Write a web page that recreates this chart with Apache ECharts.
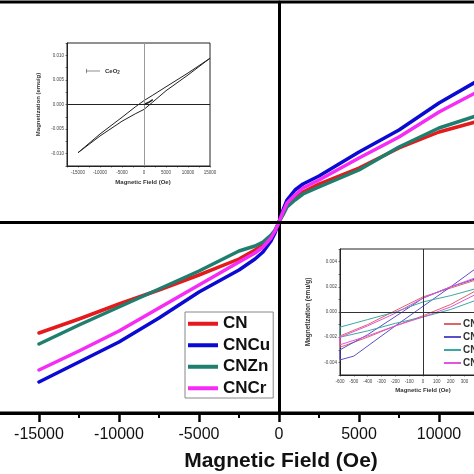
<!DOCTYPE html>
<html><head><meta charset="utf-8">
<script src="https://cdn.jsdelivr.net/npm/echarts@6/dist/echarts.min.js"></script>
<style>html,body{margin:0;padding:0;background:#fff}#c{width:474px;height:474px}</style>
</head><body><div id="c"></div>
<script>
// ---- Main chart data (field in Oe, magnetization in relative units) ----
const fieldMain = [-15000,-12500,-10000,-7500,-5000,-2500,-1500,-1000,-500,-250,0,250,500,1000,1500,2500,5000,7500,10000,12500];
const magCN   = [-11.1,-9.7,-8.2,-6.8,-5.3,-3.7,-2.8,-2.3,-1.5,-0.9,0,0.9,1.7,2.5,3.0,3.8,5.4,7.4,9.0,10.1];
const magCNCu = [-16.0,-14.0,-12.0,-9.6,-7.0,-4.8,-3.7,-3.0,-1.9,-1.1,0,1.2,2.2,3.2,3.8,4.6,7.0,9.2,11.9,14.2];
const magCNZn = [-12.2,-10.3,-8.5,-6.7,-4.9,-2.9,-2.4,-2.0,-1.3,-0.8,0,0.7,1.5,2.2,2.8,3.5,5.2,7.5,9.4,10.7];
const magCNCr = [-14.8,-12.9,-10.9,-8.6,-6.3,-4.0,-3.1,-2.5,-1.6,-0.9,0,1.0,1.9,2.7,3.4,4.2,6.4,8.5,11.0,13.1];
const seriesNames = ['CN','CNCu','CNZn','CNCr'];
const mainTicks = [-15000,-10000,-5000,0,5000,10000];

// ---- Top-left inset: CeO2 loop ----
const ceo2Field = [15000,10000,5000,2000,0,-2000,-5000,-10000,-15000,-10000,-5000,-2000,0,2000,5000,10000,15000];
const ceo2Mag   = [0.0094,0.0064,0.0036,0.0019,0.0008,-0.0005,-0.0026,-0.0060,-0.0098,-0.0064,-0.0034,-0.0019,-0.0010,0.0005,0.0028,0.0060,0.0094];
const ceo2VirginField = [0,1000,2000];
const ceo2VirginMag = [0,0.0004,0.0010];

// ---- Bottom-right inset: low-field loops ----
const loopCNField   = [600,400,200,0,-220,-400,-600,-600,-400,-200,0,200,400,600];
const loopCNMag     = [0.0033,0.0026,0.0019,0.0012,0,-0.0010,-0.0019,-0.0028,-0.0020,-0.0011,-0.0003,0.0006,0.0018,0.0026];
const loopCNCuField = [600,400,200,0,-150,-400,-600,-600,-500,-200,0,200,400,600];
const loopCNCuMag   = [0.0036,0.0027,0.0020,0.0011,0,-0.0018,-0.0030,-0.0038,-0.0035,-0.0011,0.00045,0.0020,0.0036,0.0048];
const loopCNZnField = [600,400,200,0,-200,-400,-600,-600,-400,-200,0,200,400,600];
const loopCNZnMag   = [0.0024,0.0019,0.0013,0.0008,0.0000,-0.0006,-0.0012,-0.0020,-0.0015,-0.0009,-0.0004,0.0002,0.0010,0.0016];
const loopCNCrField = [600,400,200,0,-200,-400,-600,-600,-400,-200,0,200,400,600];
const loopCNCrMag   = [0.0034,0.0028,0.0020,0.0011,-0.0001,-0.0011,-0.0020,-0.0026,-0.0019,-0.0011,-0.0004,0.0004,0.0015,0.0022];

const mainColors = ['#e41a1c','#0a0ad2','#1f7f6e','#f52cf5'];
const insetColors = ['#e06464','#5b4fc8','#3aa8a0','#e055e0'];
const FONT = 'Liberation Sans, Arial, sans-serif';

const zip = (a,b) => a.map((v,i)=>[v,b[i]]);
const mainMags = [magCN, magCNCu, magCNZn, magCNCr];
const loops = [[loopCNField,loopCNMag],[loopCNCuField,loopCNCuMag],[loopCNZnField,loopCNZnMag],[loopCNCrField,loopCNCrMag]];

const series = [];
mainMags.forEach((m,i)=>{
  series.push({
    name: seriesNames[i], type:'line', xAxisIndex:0, yAxisIndex:0,
    data: zip(fieldMain, m), showSymbol:false, symbol:'none', smooth:false,
    lineStyle:{color:mainColors[i], width:3.5, join:'round', cap:'round'}, itemStyle:{color:mainColors[i]},
    z:3,
    markLine: i===0 ? {silent:true, symbol:'none', label:{show:false},
      lineStyle:{color:'#000', width:3, type:'solid'}, data:[{yAxis:0}]} : undefined
  });
});
series.push({
  name:'CeO2', type:'line', xAxisIndex:1, yAxisIndex:1,
  data: zip(ceo2Field, ceo2Mag), showSymbol:false, symbol:'none',
  lineStyle:{color:'#222', width:1}, itemStyle:{color:'#222'},
  markLine:{silent:true, symbol:'none', label:{show:false}, data:[
    {xAxis:0, lineStyle:{color:'#999', width:1, type:'solid'}},
    {yAxis:0, lineStyle:{color:'#222', width:1, type:'solid'}}]}
});
series.push({
  name:'virgin', type:'line', xAxisIndex:1, yAxisIndex:1,
  data: zip(ceo2VirginField, ceo2VirginMag), showSymbol:false, symbol:'none',
  lineStyle:{color:'#222', width:1.5}
});
loops.forEach((l,i)=>{
  series.push({
    name: seriesNames[i]+' ', type:'line', xAxisIndex:2, yAxisIndex:2,
    data: zip(l[0], l[1]), showSymbol:false, symbol:'none',
    lineStyle:{color:insetColors[i], width:1}, itemStyle:{color:insetColors[i]},
    markLine: i===0 ? {silent:true, symbol:'none', label:{show:false},
      lineStyle:{color:'#333', width:1, type:'solid'}, data:[{xAxis:0},{yAxis:0}]} : undefined
  });
});

// inset legend (bottom-right) drawn as graphics
const insetLegend = [];
seriesNames.forEach((n,i)=>{
  const y = 324 + i*13;
  insetLegend.push({type:'line', z:100, shape:{x1:444,y1:y,x2:461,y2:y}, style:{stroke:insetColors[i], lineWidth:2}});
  insetLegend.push({type:'text', z:100, x:463, y:y,
    style:{text:n, font:'bold 10px '+FONT, fill:'#333', verticalAlign:'middle', textVerticalAlign:'middle'}});
});

const tinyLabel = {fontSize:4.5, color:'#444', fontFamily:FONT};
const option = {
  animation:false,
  backgroundColor:'#fff',
  grid:[
    {left:-41, right:-45, top:2, bottom:61, show:true, borderColor:'#000', borderWidth:3, backgroundColor:'transparent', outerBoundsMode:'none', containLabel:false},
    {left:67, top:43, width:143, height:123, show:true, borderColor:'#222', borderWidth:1, backgroundColor:'#fff', outerBoundsMode:'none', containLabel:false},
    {left:340, top:249, width:166, height:126, show:true, borderColor:'#222', borderWidth:1, backgroundColor:'#fff', outerBoundsMode:'none', containLabel:false}
  ],
  xAxis:[
    {type:'value', gridIndex:0, min:-20000, max:15000, interval:5000,
     axisLine:{onZero:false, lineStyle:{color:'#000', width:3}},
     axisTick:{show:true, length:9, lineStyle:{width:2.5, color:'#000'}},
     minorTick:{show:true, splitNumber:2, length:5, lineStyle:{width:2, color:'#000'}},
     axisLabel:{fontSize:16, color:'#111', margin:14, fontFamily:FONT,
       formatter:v=> mainTicks.includes(v) ? String(v) : ''},
     splitLine:{show:false}},
    {type:'value', gridIndex:1, min:-17500, max:15000, interval:2500,
     axisLine:{onZero:false, lineStyle:{color:'#222', width:1}},
     axisTick:{length:1.5, lineStyle:{color:'#222', width:0.6}},
     axisLabel:Object.assign({margin:4, formatter:v=> (v%5000===0 ? String(v) : '')}, tinyLabel),
     splitLine:{show:false}},
    {type:'value', gridIndex:2, min:-600, max:600, interval:100,
     axisLine:{onZero:false, lineStyle:{color:'#222', width:1}},
     axisTick:{length:1.5, lineStyle:{color:'#222', width:0.6}},
     axisLabel:Object.assign({margin:4}, tinyLabel),
     name:'Magnetic Field (Oe)', nameLocation:'middle', nameGap:12,
     nameTextStyle:{fontSize:6, fontWeight:'bold', color:'#333', fontFamily:FONT},
     splitLine:{show:false}}
  ],
  yAxis:[
    {type:'value', gridIndex:0, min:-19.1, max:22.0,
     axisLine:{show:true, onZero:true, lineStyle:{color:'#000', width:3}},
     axisTick:{show:false}, axisLabel:{show:false}, splitLine:{show:false}},
    {type:'value', gridIndex:1, min:-0.0125, max:0.0125, interval:0.0025,
     axisLine:{onZero:false, lineStyle:{color:'#222', width:1}},
     axisTick:{length:1.5, lineStyle:{color:'#222', width:0.6}},
     axisLabel:Object.assign({margin:3, formatter:v=> (Math.abs(Math.round(v*10000))%50===0 ? v.toFixed(3) : '')}, tinyLabel),
     name:'Magnetization (emu/g)', nameLocation:'middle', nameGap:26, nameRotate:90,
     nameTextStyle:{fontSize:6, fontWeight:'bold', color:'#333', fontFamily:FONT},
     splitLine:{show:false}},
    {type:'value', gridIndex:2, min:-0.005, max:0.005, interval:0.001,
     axisLine:{onZero:false, lineStyle:{color:'#222', width:1}},
     axisTick:{length:1.5, lineStyle:{color:'#222', width:0.6}},
     axisLabel:Object.assign({margin:3, formatter:v=> (Math.abs(Math.round(v*1000))%2===0 ? v.toFixed(3) : '')}, tinyLabel),
     name:'Magnetization (emu/g)', nameLocation:'middle', nameGap:28, nameRotate:90,
     nameTextStyle:{fontSize:6.5, fontWeight:'bold', color:'#333', fontFamily:FONT},
     splitLine:{show:false}}
  ],
  legend:[
    {data:seriesNames, orient:'vertical', left:185, top:312, backgroundColor:'#fff',
     borderColor:'#888', borderWidth:1, padding:[3,3,1,3], itemGap:4,
     itemWidth:30, itemHeight:4, icon:'rect',
     textStyle:{fontSize:17, fontWeight:'bold', color:'#111', fontFamily:FONT, lineHeight:17.5}},
    {data:['CeO2'], orient:'vertical', left:81, top:63, itemWidth:14, itemHeight:9,
     icon:'path://M0,0h1v10h-1z M0,4.5h30v1.2h-30z',
     formatter:()=> 'CeO{s|2}',
     textStyle:{fontSize:6, fontWeight:'bold', color:'#333', fontFamily:FONT,
       rich:{s:{fontSize:4.5, fontWeight:'bold', verticalAlign:'bottom', padding:[3,0,0,0]}}}}
  ],
  graphic:[
    {type:'text', x:281, y:461, z:100,
     style:{text:'Magnetic Field (Oe)', font:'bold 21px '+FONT, fill:'#111',
       align:'center', verticalAlign:'middle', textAlign:'center', textVerticalAlign:'middle'}},
    {type:'text', x:143, y:182, z:100,
     style:{text:'Magnetic Field (Oe)', font:'bold 6px '+FONT, fill:'#333',
       align:'center', verticalAlign:'middle', textAlign:'center', textVerticalAlign:'middle'}}
  ].concat(insetLegend),
  series: series
};
const chart = echarts.init(document.getElementById('c'), null, {renderer:'canvas'});
chart.setOption(option);
</script></body></html>
